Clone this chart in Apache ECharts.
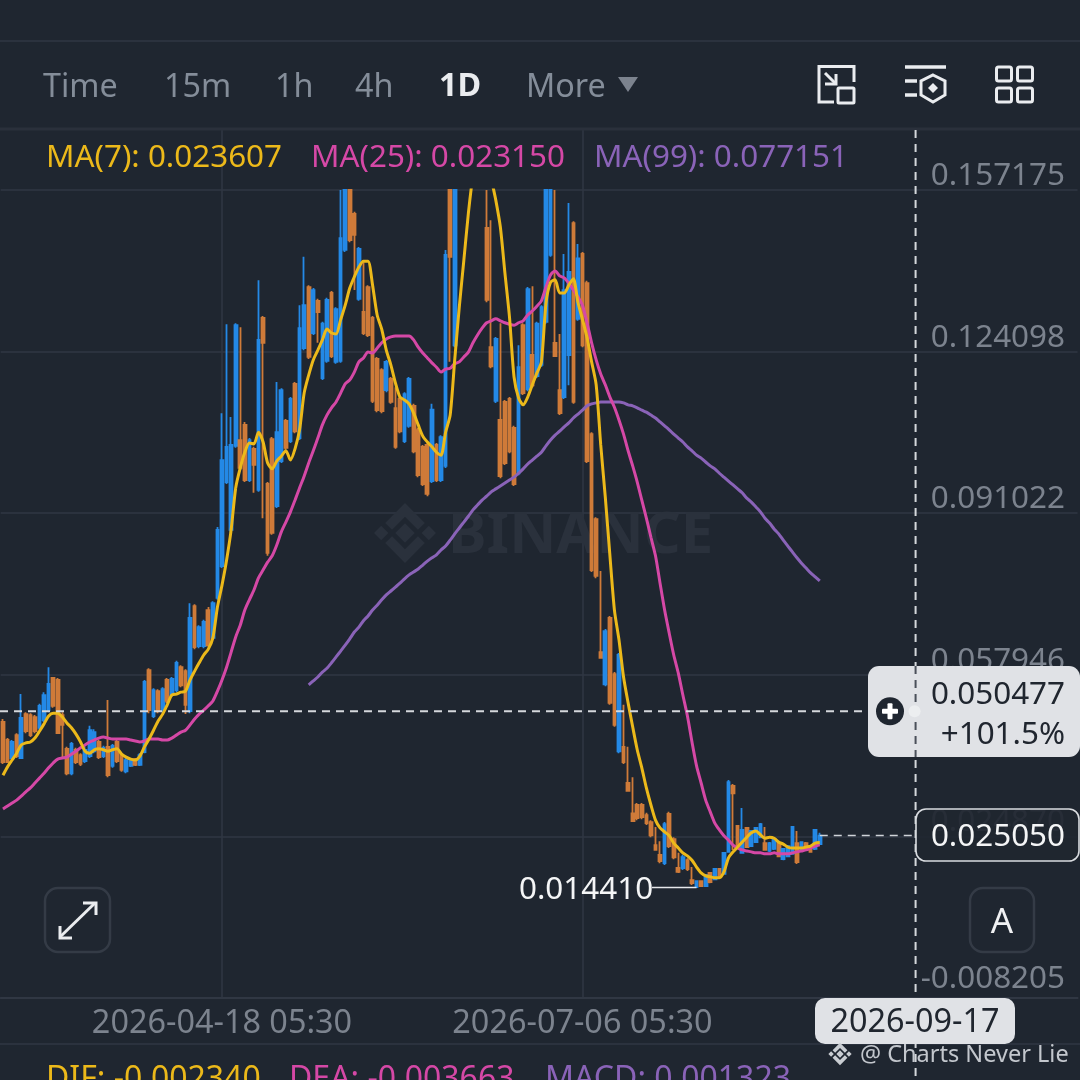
<!DOCTYPE html>
<html><head><meta charset="utf-8">
<style>html,body{margin:0;padding:0;background:#1f2630}#c{width:1080px;height:1080px}</style>
<script src="https://cdn.jsdelivr.net/npm/echarts@6/dist/echarts.min.js"></script>
</head><body><div id="c"></div>
<script>
const FONT = '"Noto Sans", sans-serif';
const firstDay = '2026-03-01';
const dayCount = 236;
const xTickDates = ['2026-04-18', '2026-07-06'];
const crossDate = '2026-09-17';
const crossValue = 0.050477;
const lastValue = 0.025050;
const lowValue = 0.014410;
const lowDate = '2026-07-31';
const yMin = -0.008205;
const yMax = 0.157175;
const yTicks = [-0.008205, 0.024870, 0.057946, 0.091022, 0.124098, 0.157175];
const yTickLabels = ['-0.008205', '0.024870', '0.057946', '0.091022', '0.124098', '0.157175'];

// [open, close, low, high]; the picture cuts anything above the top gridline
const candles = [
[.0483,.0401,.0397,.0489],[.0446,.0401,.0399,.0450],[.0409,.0442,.0405,.0446],[.0456,.0413,.0409,.0460],[.0409,.0491,.0409,.0540],[.0499,.0464,.0460,.0503],[.0497,.0456,.0452,.0501],[.0493,.0464,.0460,.0497],[.0471,.0516,.0466,.0520],
[.0487,.0538,.0483,.0544],[.0507,.0561,.0503,.0595],[.0573,.0516,.0512,.0575],[.0569,.0460,.0460,.0573],[.0497,.0477,.0411,.0503],[.0428,.0378,.0374,.0432],[.0378,.0438,.0374,.0442],[.0426,.0401,.0397,.0430],[.0415,.0397,.0393,.0419],[.0403,.0426,.0399,.0432],
[.0413,.0466,.0409,.0475],[.0423,.0462,.0419,.0468],[.0442,.0411,.0407,.0446],[.0413,.0430,.0409,.0434],[.0432,.0374,.0370,.0528],[.0393,.0434,.0389,.0438],[.0442,.0403,.0399,.0446],[.0415,.0385,.0381,.0419],[.0382,.0405,.0378,.0409],[.0393,.0407,.0391,.0409],
[.0407,.0395,.0393,.0409],[.0395,.0415,.0393,.0419],[.0421,.0565,.0419,.0569],[.0589,.0507,.0501,.0593],[.0495,.0548,.0491,.0552],[.0546,.0505,.0501,.0550],[.0507,.0550,.0503,.0554],[.0569,.0526,.0522,.0573],[.0538,.0571,.0534,.0575],[.0548,.0604,.0544,.0608],
[.0595,.0558,.0554,.0599],[.0587,.0518,.0499,.0591],[.0505,.0696,.0501,.0726],[.0720,.0636,.0632,.0724],[.0638,.0677,.0634,.0681],[.0638,.0688,.0634,.0692],[.0712,.0640,.0636,.0718],[.0655,.0726,.0651,.0730],[.0737,.0876,.0733,.0882],[.0802,.1019,.0798,.1115],
[.0974,.1046,.0970,.1297],[.0876,.1050,.0870,.1107],[.1048,.1295,.1044,.1299],[.1060,.1003,.0999,.1291],[.1091,.0978,.0974,.1097],[.0978,.1060,.0974,.1064],[.1042,.1009,.0952,.1046],[.0958,.1265,.0954,.1387],[.1310,.1259,.0900,.1314],[.0970,.0829,.0823,.0974],
[.1062,.0870,.0866,.1066],[.0925,.1076,.0921,.1179],[.1017,.1162,.1013,.1166],[.1099,.1044,.1040,.1103],[.1058,.1144,.1054,.1148],[.1175,.1078,.1074,.1179],[.1064,.1289,.1060,.1336],[.1248,.1336,.1244,.1435],[.1373,.1230,.1226,.1377],[.1279,.1367,.1275,.1371],
[.1345,.1322,.1259,.1349],[.1187,.1298,.1183,.1302],[.1222,.1347,.1218,.1351],[.1361,.1232,.1228,.1365],[.1220,.1328,.1216,.1332],[.1222,.1473,.1218,.1572],[.1449,.1572,.1445,.1572],[.1572,.1469,.1465,.1572],[.1523,.1480,.1367,.1527],[.1349,.1451,.1345,.1455],
[.1322,.1279,.1275,.1424],[.1373,.1275,.1271,.1377],[.1310,.1140,.1136,.1314],[.1226,.1121,.1117,.1230],[.1203,.1119,.1115,.1207],[.1162,.1220,.1158,.1224],[.1185,.1138,.1134,.1189],[.1125,.1046,.1042,.1168],[.1144,.1078,.1074,.1148],[.1058,.1154,.1054,.1158],
[.1089,.1185,.1085,.1189],[.1130,.1037,.1033,.1134],[.1080,.0988,.0984,.1085],[.1046,.0970,.0966,.1050],[.1050,.0950,.0945,.1054],[.0976,.1122,.0972,.1134],[.1050,.0978,.0974,.1054],[.0978,.1066,.0974,.1070],[.1007,.1439,.1003,.1449],[.1572,.1435,.1220,.1572],
[.1254,.1572,.1250,.1572],[.1640,.1800,.1620,.1900],[.1800,.1950,.1750,.2050],[.1950,.2000,.1850,.2150],[.2000,.1900,.1800,.2100],[.1900,.1800,.1700,.1950],[.1800,.1700,.1620,.1850],[.1494,.1347,.1342,.1572],[.1250,.1211,.1207,.1510],[.1140,.1267,.1136,.1271],
[.1101,.0986,.0982,.1299],[.1138,.1013,.1009,.1142],[.1144,.1037,.1033,.1148],[.1085,.0970,.0966,.1089],[.0992,.1209,.0988,.1254],[.1295,.1156,.1152,.1299],[.1164,.1369,.1160,.1373],[.1234,.1172,.1168,.1375],[.1191,.1298,.1187,.1302],[.1214,.1332,.1210,.1336],
[.1302,.1572,.1298,.1572],[.1439,.1572,.1435,.1572],[.1259,.1232,.1232,.1572],[.1162,.1115,.1111,.1277],[.1148,.1367,.1144,.1441],[.1234,.1404,.1172,.1545],[.1504,.1138,.1134,.1508],[.1308,.1432,.1304,.1461],[.1441,.1254,.1250,.1445],[.1381,.1017,.1013,.1386],
[.1072,.0794,.0790,.1076],[.0898,.0782,.0777,.0902],[.0626,.0614,.0614,.0792],[.0560,.0669,.0556,.0673],[.0696,.0522,.0518,.0700],[.0581,.0477,.0473,.0585],[.0423,.0620,.0419,.0624],[.0432,.0401,.0397,.0518],[.0358,.0342,.0342,.0432],[.0296,.0280,.0278,.0370],
[.0313,.0286,.0282,.0317],[.0313,.0288,.0284,.0317],[.0292,.0276,.0272,.0297],[.0278,.0251,.0247,.0282],[.0231,.0221,.0221,.0268],[.0211,.0198,.0194,.0239],[.0194,.0274,.0190,.0278],[.0295,.0229,.0225,.0299],[.0243,.0206,.0202,.0247],[.0184,.0176,.0174,.0215],
[.0184,.0206,.0180,.0211],[.0200,.0182,.0178,.0204],[.0159,.0153,.0149,.0186],[.0145,.0157,.01441,.0159],[.0157,.0147,.0145,.0159],[.0147,.0170,.0145,.0172],[.0174,.0155,.0153,.0176],[.0161,.0182,.0159,.0184],[.0182,.0166,.0164,.0184],[.0172,.0215,.0170,.0217],
[.0217,.0360,.0215,.0364],[.0352,.0337,.0221,.0356],[.0270,.0225,.0223,.0272],[.0215,.0262,.0213,.0307],[.0266,.0227,.0225,.0268],[.0229,.0260,.0227,.0262],[.0237,.0266,.0235,.0268],[.0247,.0274,.0245,.0276],[.0235,.0221,.0221,.0268],[.0219,.0235,.0217,.0237],
[.0223,.0243,.0221,.0245],[.0235,.0208,.0206,.0237],[.0202,.0223,.0200,.0225],[.0208,.0229,.0206,.0231],[.0213,.0268,.0211,.0270],[.0235,.0196,.0192,.0260],[.0219,.0237,.0217,.0239],[.0235,.0221,.0219,.0237],[.0229,.0217,.0215,.0231],[.0223,.0262,.0221,.0264],
[.0233,.02505,.0231,.0256]
];

const ma7 = [.0374,.0391,.0405,.0419,.0436,.0440,.0442,.0450,.0464,.0479,.0495,.0501,.0501,.0493,.0481,.0471,.0458,.0442,.0423,.0419,.0426,.0428,.0426,.0423,.0426,.0428,.0417,.0411,.0407,.0405,.0413,.0432,.0448,.0466,.0485,.0499,.0518,.0538,.0540,.0544,.0546,.0569,.0587,.0604,.0620,.0632,.0655,.0718,.0763,
.0814,.0876,.0962,.1003,.1035,.1054,.1052,.1076,.1056,.1013,.1001,.1017,.1027,.1038,.1019,.1042,.1081,.1156,.1193,.1224,.1244,.1265,.1287,.1279,.1277,.1306,.1336,.1371,.1394,.1414,.1426,.1426,.1377,.1316,.1287,.1244,.1214,.1177,.1148,.1142,.1134,.1115,.1091,.1068,.1056,.1046,.1035,.1029,.1076,.1111,
.1224,.1332,.1428,.1525,.1602,.1654,.1674,.1654,.1596,.1551,.1496,.1402,.1312,.1189,.1146,.1132,.1148,.1173,.1197,.1220,.1340,.1383,.1388,.1361,.1361,.1377,.1390,.1342,.1306,.1269,.1220,.1173,.1050,.0943,.0825,.0712,.0651,.0575,.0522,.0473,.0426,.0389,.0348,.0313,.0282,.0266,.0258,.0250,.0235,.0225,
.0215,.0209,.0200,.0186,.0174,.0168,.0166,.0164,.0164,.0176,.0205,.0217,.0227,.0237,.0247,.0256,.0260,.0252,.0245,.0247,.0245,.0237,.0233,.0227,.0225,.0225,.0225,.0227,.0229,.0235,.023607];

const ma25 = [.0305,.0311,.0317,.0323,.0331,.0340,.0348,.0358,.0368,.0378,.0389,.0399,.0407,.0409,.0411,.0417,.0423,.0430,.0436,.0442,.0446,.0450,.0452,.0450,.0448,.0448,.0448,.0448,.0446,.0444,.0442,.0444,.0448,.0448,.0448,.0446,.0446,.0450,.0456,.0462,.0466,.0477,.0489,.0499,.0507,.0516,.0526,.0546,.0569,
.0595,.0626,.0657,.0681,.0712,.0733,.0753,.0778,.0794,.0810,.0823,.0845,.0872,.0892,.0913,.0937,.0962,.0986,.1013,.1038,.1064,.1091,.1111,.1126,.1138,.1156,.1175,.1183,.1199,.1220,.1228,.1240,.1238,.1248,.1259,.1267,.1271,.1273,.1273,.1273,.1273,.1265,.1250,.1238,.1228,.1218,.1209,.1199,.1205,.1207,
.1216,.1220,.1230,.1240,.1259,.1275,.1289,.1300,.1304,.1308,.1304,.1300,.1297,.1295,.1300,.1304,.1316,.1324,.1334,.1345,.1373,.1398,.1406,.1396,.1392,.1381,.1367,.1353,.1336,.1300,.1259,.1224,.1195,.1173,.1148,.1127,.1101,.1072,.1038,.1007,.0974,.0937,.0900,.0861,.0823,.0767,.0712,.0665,.0620,.0583,
.0538,.0495,.0442,.0393,.0358,.0323,.0299,.0276,.0262,.0250,.0241,.0231,.0225,.0221,.0219,.0217,.0215,.0215,.0213,.0213,.0215,.0213,.0213,.0213,.0215,.0217,.0219,.0221,.0225,.0229,.02315];

const ma99Lead = Array(67).fill(null);
const ma99Seen = [.0559,.0567,.0575,.0585,.0593,.0604,.0616,.0628,.0640,.0653,.0667,.0677,.0690,.0700,.0712,.0722,.0733,.0743,.0751,.0759,.0767,.0776,.0784,.0790,.0796,.0804,.0812,.0819,.0825,.0835,.0843,.0855,.0868,.0880,.0892,.0904,.0917,.0927,.0937,.0945,.0954,.0960,.0966,.0972,.0978,.0984,.0992,.1001,.1011,.1019,
.1027,.1035,.1048,.1060,.1070,.1078,.1087,.1095,.1105,.1113,.1121,.1130,.1134,.1136,.1138,.1138,.1138,.1138,.1138,.1136,.1132,.1130,.1126,.1121,.1117,.1111,.1105,.1097,.1089,.1081,.1072,.1064,.1056,.1046,.1038,.1029,.1023,.1015,.1007,.1001,.0992,.0984,.0976,.0968,.0960,.0952,.0941,.0933,.0923,.0913,
.0900,.0890,.0878,.0868,.0855,.0843,.0831,.0819,.0808,.0798,.0788,.0780,.077151];
const ma99 = ma99Lead.concat(ma99Seen);

const BG = '#1f2630', GRID = '#303743', AXIS = '#7c838e', UP = '#2489e6', DOWN = '#cf7b39';
const YEL = '#ecb91a', MAG = '#d548a6', PUR = '#8a63b8';

const dates = [];
{ const t0 = Date.parse(firstDay + 'T00:00:00Z');
  for (let i = 0; i < dayCount; i++) dates.push(new Date(t0 + i * 864e5).toISOString().slice(0, 10)); }
const isXTick = (idx, val) => xTickDates.includes(val);

const chart = echarts.init(document.getElementById('c'), null, {renderer: 'canvas'});
const gridL = 0.7, gridW = 1076.87;
const lineSeries = (data, color, z) => ({type: 'line', data, symbol: 'none', smooth: 0.25, connectNulls: false, z,
  lineStyle: {color, width: 3}, itemStyle: {color}, silent: true, animation: false});

chart.setOption({
  animation: false, backgroundColor: BG, textStyle: {fontFamily: FONT},
  grid: [
    {left: gridL, width: gridW, top: 190, bottom: 82},
    {left: gridL, width: gridW, top: 130, height: 60}
  ],
  xAxis: [
    {type: 'category', data: dates, gridIndex: 0, boundaryGap: true,
     axisLine: {onZero: false, lineStyle: {color: GRID, width: 2}}, axisTick: {show: false},
     axisLabel: {interval: isXTick, formatter: v => v + ' 05:30', color: AXIS, fontSize: 32.4, margin: 10, fontFamily: FONT},
     splitLine: {show: true, interval: isXTick, alignWithLabel: true, lineStyle: {color: GRID, width: 1.5}}},
    {type: 'category', data: dates, gridIndex: 1, boundaryGap: true,
     axisLine: {show: false}, axisTick: {show: false}, axisLabel: {show: false},
     splitLine: {show: true, interval: isXTick, alignWithLabel: true, lineStyle: {color: GRID, width: 1.5}}}
  ],
  yAxis: [
    {type: 'value', gridIndex: 0, position: 'right', min: yMin, max: yMax, scale: true,
     axisLine: {show: false}, axisTick: {show: false, customValues: yTicks},
     axisLabel: {inside: true, margin: 12.6, customValues: yTicks, color: AXIS, fontSize: 31.4, lineHeight: 28, verticalAlign: 'bottom', fontFamily: FONT,
       formatter: v => v === yMin ? '{m|' + yTickLabels[0] + '}' : yTickLabels[yTicks.indexOf(v)],
       rich: {m: {lineHeight: 38, fontSize: 31.4, color: AXIS, fontFamily: FONT}}},
     splitLine: {show: true, lineStyle: {color: GRID, width: 1.5}}},
    {type: 'value', gridIndex: 1, show: false, min: 0, max: 1, splitLine: {show: false}}
  ],
  series: [
    {type: 'candlestick', data: candles, barWidth: 3.2, z: 2, silent: true,
     itemStyle: {color: UP, color0: DOWN, borderColor: UP, borderColor0: DOWN, borderWidth: 1.8}},
    lineSeries(ma99, PUR, 3),
    lineSeries(ma25, MAG, 4),
    lineSeries(ma7, YEL, 5)
  ]
});

const px = v => chart.convertToPixel({yAxisIndex: 0}, v);
const dx = d => chart.convertToPixel({xAxisIndex: 0}, d);
const cx = dx(crossDate), cy = px(crossValue), ly = px(lastValue), lo = px(lowValue), lx = dx(lowDate), endX = dx(dates[179]);

const txt = (x, y, text, fill, size, align = 'left', weight = 'normal', z = 20) => ({type: 'text', z, silent: true,
  style: {x, y: y + 2, text, fill, fontSize: size, fontFamily: FONT, fontWeight: weight, align, verticalAlign: 'middle'}});
const rect = (x, y, w, h, r, fill, stroke, lw = 2, z = 15) => ({type: 'rect', z, silent: true,
  shape: {x, y, width: w, height: h, r}, style: {fill: fill || 'transparent', stroke: stroke || null, lineWidth: lw}});
const ln = (x1, y1, x2, y2, stroke, lw = 2, dash = null, z = 12) => ({type: 'line', z, silent: true,
  shape: {x1, y1, x2, y2}, style: {stroke, lineWidth: lw, lineDash: dash}});
const poly = (points, stroke, lw, fill, closed, z = 20) => ({type: closed ? 'polygon' : 'polyline', z, silent: true,
  shape: {points}, style: {stroke: stroke || null, lineWidth: lw || 0, fill: fill || (closed ? 'transparent' : null)}});
const diamond = (x, y, r, fill, z) => poly([[x, y - r], [x + r, y], [x, y + r], [x - r, y]], null, 0, fill, true, z);
const binanceMark = (x, y, s, fill, z) => [
  diamond(x, y, s * .27, fill, z), diamond(x - s * .66, y, s * .2, fill, z), diamond(x + s * .66, y, s * .2, fill, z),
  poly([[x - s * .55, y - s * .28], [x, y - s * .83], [x + s * .55, y - s * .28], [x + s * .36, y - s * .09], [x, y - s * .45], [x - s * .36, y - s * .09]], null, 0, fill, true, z),
  poly([[x - s * .55, y + s * .28], [x, y + s * .83], [x + s * .55, y + s * .28], [x + s * .36, y + s * .09], [x, y + s * .45], [x - s * .36, y + s * .09]], null, 0, fill, true, z)
];
const ICON = '#eaecef', TAB = '#848d99';

const g = [
  ...binanceMark(405, 533, 36, '#2a313c', 1),
  txt(448, 534, 'BINANCE', '#2a313c', 58, 'left', 'bold', 1),
  ln(0, 41, 1080, 41, GRID, 1.5),
  ln(0, 129, 1080, 129, '#2a303b', 3),
  ln(0, 1044, 1080, 1044, GRID, 1.5),
  txt(43, 86, 'Time', TAB, 32.3), txt(164, 86, '15m', TAB, 32.3), txt(275, 86, '1h', TAB, 32.3), txt(355, 86, '4h', TAB, 32.3),
  txt(439, 85, '1D', ICON, 32.3, 'left', 'bold'), txt(526, 86, 'More', TAB, 32.3),
  poly([[618, 77], [638, 77], [628, 92]], null, 0, '#7c838e', true),
  poly([[840, 66.5], [819, 66.5], [819, 102], [834, 102]], ICON, 3),
  poly([[840, 66.5], [854, 66.5], [854, 82]], ICON, 3),
  rect(838, 88, 16, 15, 1, null, ICON, 3, 20),
  ln(825, 73, 836, 84, ICON, 3, null, 20), poly([[825, 84], [836, 84], [836, 74]], ICON, 3),
  ln(905, 67, 946, 67, ICON, 3.5, null, 20), ln(905, 81, 917, 81, ICON, 3.5, null, 20), ln(905, 95, 917, 95, ICON, 3.5, null, 20),
  poly([[933, 75], [945, 81], [945, 95], [933, 102], [921, 95], [921, 81]], ICON, 3, null, true),
  diamond(933, 88, 5, ICON, 20),
  rect(996.5, 67, 15, 14, 2, null, ICON, 3, 20), rect(1017.5, 67, 15, 14, 2, null, ICON, 3, 20),
  rect(996.5, 88, 15, 14, 2, null, ICON, 3, 20), rect(1017.5, 88, 15, 14, 2, null, ICON, 3, 20),
  txt(46, 156, 'MA(7): 0.023607', YEL, 31.4), txt(311, 156, 'MA(25): 0.023150', MAG, 31.4), txt(594, 156, 'MA(99): 0.077151', PUR, 31.4),
  txt(46, 1078, 'DIF: -0.002340', YEL, 32), txt(289, 1078, 'DEA: -0.003663', MAG, 32), txt(545, 1078, 'MACD: 0.001323', PUR, 32),
  ln(cx, 130, cx, 1080, '#d5d8dc', 2, [8, 6], 12),
  ln(0, cy, cx - 47, cy, '#d5d8dc', 2, [8, 6], 12),
  ln(endX, ly, cx, ly, '#cfd3d8', 1.6, [8, 6], 12),
  rect(916, 809, 163, 52, 10, 'rgba(31,38,48,.92)', '#d9dce0', 1.6, 16),
  txt(1065, ly, '0.025050', '#f4f5f6', 31.4, 'right'),
  ln(652, lo, lx, lo, '#e6e8eb', 1.4, null, 12),
  txt(519, lo + 1, '0.014410', '#f4f5f6', 31.4),
  rect(868, 666, 212, 91, 11, '#e0e2e6', null, 0, 16),
  ln(cx, 666, cx, 757, '#4a505a', 2, [8, 6], 17),
  {type: 'circle', z: 18, silent: true, shape: {cx: cx - 1, cy, r: 6}, style: {fill: '#eceef0'}},
  {type: 'circle', z: 18, silent: true, shape: {cx: 890, cy, r: 14}, style: {fill: '#1f2630'}},
  rect(882, cy - 2.5, 16, 5, 1, '#ffffff', null, 0, 19), rect(887.5, cy - 8, 5, 16, 1, '#ffffff', null, 0, 19),
  txt(1065, 693, '0.050477', '#20262f', 31.4, 'right'),
  txt(1065, 733, '+101.5%', '#20262f', 31.4, 'right'),
  rect(815, 998, 200, 46, 10, '#e0e2e6', null, 0, 16),
  txt(915, 1021, crossDate, '#20262f', 32.4, 'center'),
  rect(45, 888, 65, 64, 13, 'transparent', '#343b46', 2.5, 15),
  ln(60, 937, 95, 903, ICON, 3, null, 20), poly([[60, 926], [60, 938], [72, 938]], ICON, 3), poly([[83, 903], [96, 903], [96, 915]], ICON, 3),
  rect(970, 888, 64, 64, 13, 'transparent', '#343b46', 2.5, 15),
  txt(1002, 921, 'A', '#f0f1f3', 35, 'center'),
  ...binanceMark(840, 1054, 13.5, '#c9cdd2', 21),
  txt(860, 1053, '@ Charts Never Lie', '#c3c7cd', 23.5, 'left', 'normal', 21)
];
chart.setOption({graphic: {elements: g}});
</script></body></html>
